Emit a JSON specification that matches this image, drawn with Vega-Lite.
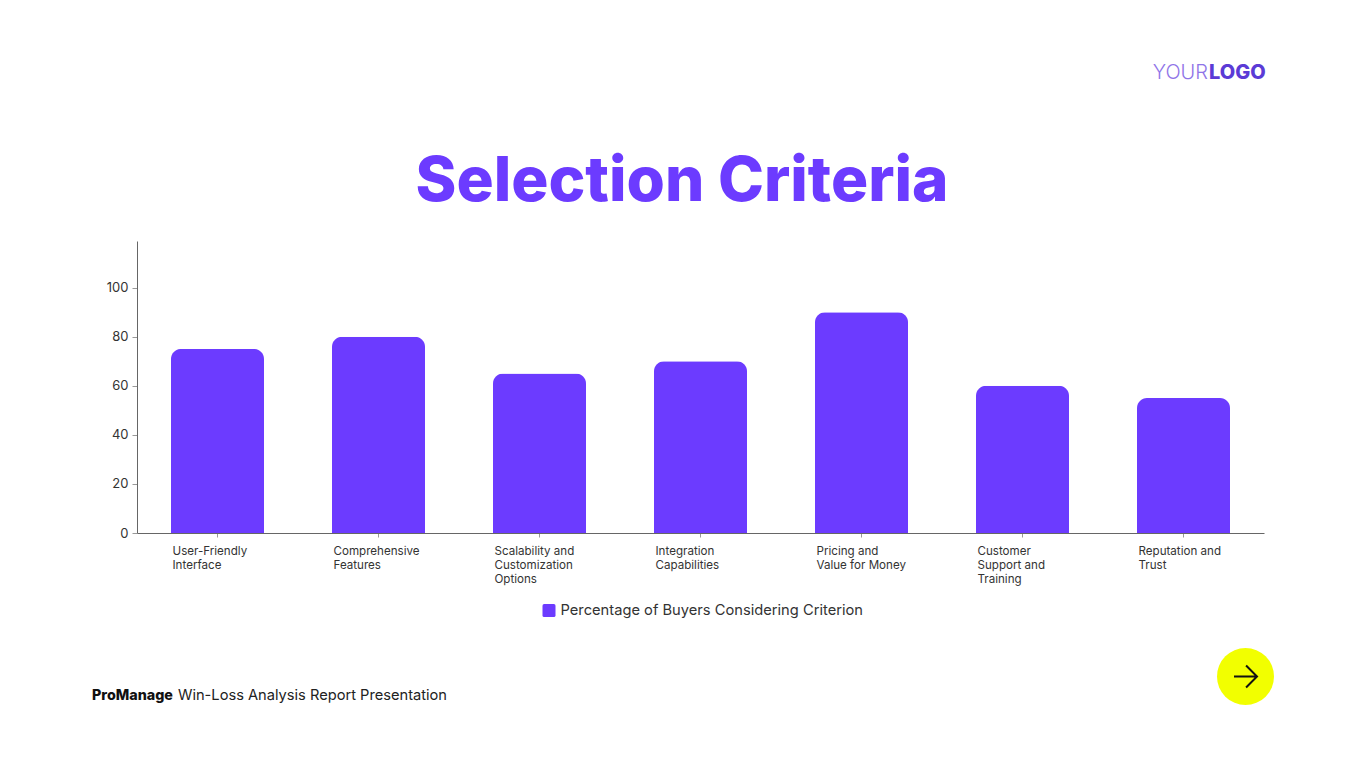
{"$schema":"https://vega.github.io/schema/vega-lite/v6.json","width":1127,"height":292,"autosize":{"type":"none"},"padding":{"left":137,"top":241,"right":102,"bottom":235},"background":"#ffffff","title":{"text":"Selection Criteria","font":"Inter","fontSize":62,"fontWeight":800,"color":"#6C3BFF","anchor":"middle","dx":-18.5,"dy":188,"offset":37},"config":{"font":"Inter","view":{"stroke":null}},"data":{"values":[{"criterion":"User-Friendly Interface","pct":75,"series":"Percentage of Buyers Considering Criterion"},{"criterion":"Comprehensive Features","pct":80,"series":"Percentage of Buyers Considering Criterion"},{"criterion":"Scalability and Customization Options","pct":65,"series":"Percentage of Buyers Considering Criterion"},{"criterion":"Integration Capabilities","pct":70,"series":"Percentage of Buyers Considering Criterion"},{"criterion":"Pricing and Value for Money","pct":90,"series":"Percentage of Buyers Considering Criterion"},{"criterion":"Customer Support and Training","pct":60,"series":"Percentage of Buyers Considering Criterion"},{"criterion":"Reputation and Trust","pct":55,"series":"Percentage of Buyers Considering Criterion"}]},"layer":[{"mark":{"type":"bar","size":93,"cornerRadiusTopLeft":10,"cornerRadiusTopRight":10},"encoding":{"x":{"field":"criterion","type":"nominal","sort":null,"scale":{"paddingInner":0,"paddingOuter":0},"axis":{"title":null,"labelAngle":0,"labelAlign":"left","labelBaseline":"middle","labelOffset":-45,"labelPadding":14,"labelFontSize":11.6,"labelColor":"#333333","labelLineHeight":14,"labelFont":"Inter","domainColor":"#666666","tickColor":"#999999","tickSize":4,"grid":false,"labelExpr":"{'User-Friendly Interface':['User-Friendly','Interface'],'Comprehensive Features':['Comprehensive','Features'],'Scalability and Customization Options':['Scalability and','Customization','Options'],'Integration Capabilities':['Integration','Capabilities'],'Pricing and Value for Money':['Pricing and','Value for Money'],'Customer Support and Training':['Customer','Support and','Training'],'Reputation and Trust':['Reputation and','Trust']}[datum.label]"}},"y":{"field":"pct","type":"quantitative","scale":{"domain":[0,119],"nice":false},"axis":{"title":null,"values":[0,20,40,60,80,100],"grid":false,"labelFontSize":13,"labelColor":"#333333","labelPadding":4,"domainColor":"#666666","tickColor":"#999999","tickSize":5}},"color":{"field":"series","type":"nominal","scale":{"range":["#6C3BFF"]},"legend":{"title":null,"orient":"none","legendX":404.5,"legendY":362,"symbolType":"M-0.75,-1H0.75Q1,-1 1,-0.75V0.75Q1,1 0.75,1H-0.75Q-1,1 -1,0.75V-0.75Q-1,-1 -0.75,-1Z","symbolSize":169,"symbolOpacity":1,"labelFontSize":14.7,"labelColor":"#333333","labelFont":"Inter","labelLimit":400}}}},{"data":{"values":[{"t":"ProManage"}]},"mark":{"type":"text","align":"left","baseline":"middle","fontWeight":800,"fontSize":14.3,"color":"#111111"},"encoding":{"text":{"field":"t"},"x":{"datum":92,"type":"quantitative","axis":null,"scale":{"domain":[137,1264],"nice":false,"zero":false}},"y":{"datum":696,"type":"quantitative","axis":null,"scale":{"domain":[533,241],"nice":false,"zero":false}}}},{"data":{"values":[{"t":"Win-Loss Analysis Report Presentation"}]},"mark":{"type":"text","align":"left","baseline":"middle","fontSize":14.65,"color":"#222222"},"encoding":{"text":{"field":"t"},"x":{"datum":178,"type":"quantitative","axis":null,"scale":{"domain":[137,1264],"nice":false,"zero":false}},"y":{"datum":696,"type":"quantitative","axis":null,"scale":{"domain":[533,241],"nice":false,"zero":false}}}},{"data":{"values":[{"t":"YOUR"}]},"mark":{"type":"text","align":"right","baseline":"middle","fontSize":20,"fontWeight":300,"color":"#8F74E8"},"encoding":{"text":{"field":"t"},"x":{"datum":1208,"type":"quantitative","axis":null,"scale":{"domain":[137,1264],"nice":false,"zero":false}},"y":{"datum":73,"type":"quantitative","axis":null,"scale":{"domain":[533,241],"nice":false,"zero":false}}}},{"data":{"values":[{"t":"LOGO"}]},"mark":{"type":"text","align":"left","baseline":"middle","fontSize":20,"fontWeight":800,"color":"#5B3BD6"},"encoding":{"text":{"field":"t"},"x":{"datum":1209,"type":"quantitative","axis":null,"scale":{"domain":[137,1264],"nice":false,"zero":false}},"y":{"datum":73,"type":"quantitative","axis":null,"scale":{"domain":[533,241],"nice":false,"zero":false}}}},{"data":{"values":[{"t":"next"}]},"mark":{"type":"point","shape":"circle","filled":true,"size":3249,"color":"#F2FF00","opacity":1},"encoding":{"x":{"datum":1245.5,"type":"quantitative","axis":null,"scale":{"domain":[137,1264],"nice":false,"zero":false}},"y":{"datum":676.5,"type":"quantitative","axis":null,"scale":{"domain":[533,241],"nice":false,"zero":false}}}},{"data":{"values":[{"t":"arrow"}]},"mark":{"type":"point","shape":"M-1,0L1,0M0.05,-0.95L1,0L0.05,0.95","filled":false,"size":529,"stroke":"#111111","strokeWidth":2,"opacity":1},"encoding":{"x":{"datum":1245.5,"type":"quantitative","axis":null,"scale":{"domain":[137,1264],"nice":false,"zero":false}},"y":{"datum":676.5,"type":"quantitative","axis":null,"scale":{"domain":[533,241],"nice":false,"zero":false}}}}],"resolve":{"scale":{"x":"independent","y":"independent"}}}
